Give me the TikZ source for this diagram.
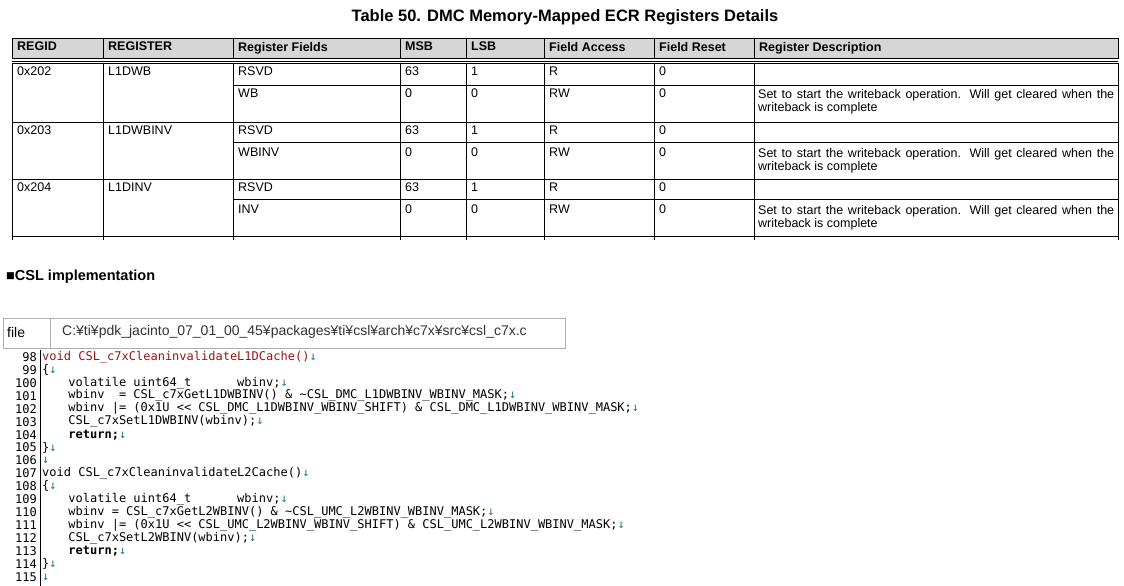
\documentclass[tikz,border=0pt]{standalone}
\usepackage{fontspec}
\setmainfont{Liberation Sans}
\newfontfamily\codefont{DejaVu Sans Mono}
\usetikzlibrary{positioning}
\definecolor{hdrgray}{RGB}{214,214,214}
\definecolor{linegray}{RGB}{120,120,120}
\definecolor{sigred}{RGB}{150,20,20}
\definecolor{crlf}{RGB}{30,120,140}
\newcommand{\lf}{{\color{crlf}↓}}
\newcommand{\nohyph}{\hyphenpenalty=10000\relax}
% one code line: number, text
\newcommand{\codeln}[3][black]{%
  \pgfmathsetmacro{\yy}{357+(#2-98)*12.94}
  \node[lnum] (n#2) at (37,\yy) {#2};
  \node[code,text=#1] (c#2) at (42,\yy) {#3\lf};}
\begin{document}
\begin{tikzpicture}[x=1pt,y=-1pt,
  cell/.style={anchor=north west,inner sep=0pt,font=\fontsize{12.5}{13.5}\selectfont},
  desc/.style={cell,text width=356pt,align=justify,execute at begin node={\nohyph}},
  lnum/.style={anchor=east,inner sep=0pt,font=\codefont\fontsize{12}{12}\selectfont},
  code/.style={anchor=west,inner sep=0pt,font=\codefont\fontsize{12}{12}\selectfont},
  grid/.style={draw=black,line width=0.6pt}]
\useasboundingbox (0,0) rectangle (1124,586);
\node[font=\bfseries\fontsize{16.5}{17}\selectfont] (title) at (565,17) {Table 50. DMC Memory-Mapped ECR Registers Details};
% header
\draw[grid,fill=hdrgray] (12,38) rectangle (1118,58);
\foreach \x in {103,233,400,466,544,654,754} \draw[grid] (\x,38) -- (\x,58);
\foreach \x/\t in {12/REGID,103/REGISTER,233/Register Fields,400/MSB,466/LSB,544/Field Access,654/Field Reset,754/Register Description}
  \node[cell,font=\bfseries\fontsize{12.5}{13.5}\selectfont] at (\x+5,42) {\t};
% body grid
\draw[grid] (12,61) -- (1118,61);
\draw[grid] (12,63) -- (1118,63);
\foreach \y in {122,179,236} \draw[grid] (12,\y) -- (1118,\y);
\foreach \y in {85,142,199} \draw[grid] (233,\y) -- (1118,\y);
\foreach \x in {12,103,233,400,466,544,654,754,1118} \draw[grid] (\x,63) -- (\x,240);
% body rows
\foreach \y/\id/\reg/\fld in {63/0x202/L1DWB/WB,122/0x203/L1DWBINV/WBINV,179/0x204/L1DINV/INV}{
  \node[cell] at (17,\y+4) {\id};
  \node[cell] at (108,\y+4) {\reg};
  \node[cell] at (238,\y+4) {RSVD};
  \node[cell] at (405,\y+4) {63};
  \node[cell] at (471,\y+4) {1};
  \node[cell] at (549,\y+4) {R};
  \node[cell] at (659,\y+4) {0};
  \node[cell] at (238,\y+26) {\fld};
  \node[cell] at (405,\y+26) {0};
  \node[cell] at (471,\y+26) {0};
  \node[cell] at (549,\y+26) {RW};
  \node[cell] at (659,\y+26) {0};
  \node[desc] at (758,\y+26) {Set to start the writeback operation. Will get cleared when the writeback is complete};
}
\node[anchor=west,inner sep=0pt,font=\bfseries\fontsize{14.5}{15}\selectfont] (csl) at (6,277) {■CSL implementation};
% file box
\draw[draw=linegray!60,line width=0.6pt] (3,318) rectangle (565,348);
\draw[draw=linegray!60,line width=0.6pt] (50,318) -- (50,348);
\node[anchor=west,inner sep=0pt,font=\fontsize{14}{15}\selectfont] (flabel) at (7,332) {file};
\node[anchor=west,inner sep=0pt,font=\fontsize{14}{15}\selectfont,text=black!80] (fpath) at (62,332) {C:¥ti¥pdk\_jacinto\_07\_01\_00\_45¥packages¥ti¥csl¥arch¥c7x¥src¥csl\_c7x.c};
% code
\draw[line width=0.6pt] (40,350) -- (40,586);
\codeln[sigred]{98}{void CSL\_c7xCleaninvalidateL1DCache()}
\codeln{99}{\{}
\codeln{100}{\hspace*{4ex}volatile uint64\_t\hspace*{7ex}wbinv;}
\codeln{101}{\hspace*{4ex}wbinv\ \ = CSL\_c7xGetL1DWBINV() \& \textasciitilde CSL\_DMC\_L1DWBINV\_WBINV\_MASK;}
\codeln{102}{\hspace*{4ex}wbinv |= (0x1U << CSL\_DMC\_L1DWBINV\_WBINV\_SHIFT) \& CSL\_DMC\_L1DWBINV\_WBINV\_MASK;}
\codeln{103}{\hspace*{4ex}CSL\_c7xSetL1DWBINV(wbinv);}
\codeln{104}{\hspace*{4ex}\textbf{return;}}
\codeln{105}{\}}
\codeln{106}{}
\codeln{107}{void CSL\_c7xCleaninvalidateL2Cache()}
\codeln{108}{\{}
\codeln{109}{\hspace*{4ex}volatile uint64\_t\hspace*{7ex}wbinv;}
\codeln{110}{\hspace*{4ex}wbinv = CSL\_c7xGetL2WBINV() \& \textasciitilde CSL\_UMC\_L2WBINV\_WBINV\_MASK;}
\codeln{111}{\hspace*{4ex}wbinv |= (0x1U << CSL\_UMC\_L2WBINV\_WBINV\_SHIFT) \& CSL\_UMC\_L2WBINV\_WBINV\_MASK;}
\codeln{112}{\hspace*{4ex}CSL\_c7xSetL2WBINV(wbinv);}
\codeln{113}{\hspace*{4ex}\textbf{return;}}
\codeln{114}{\}}
\codeln{115}{}
\end{tikzpicture}
\end{document}
